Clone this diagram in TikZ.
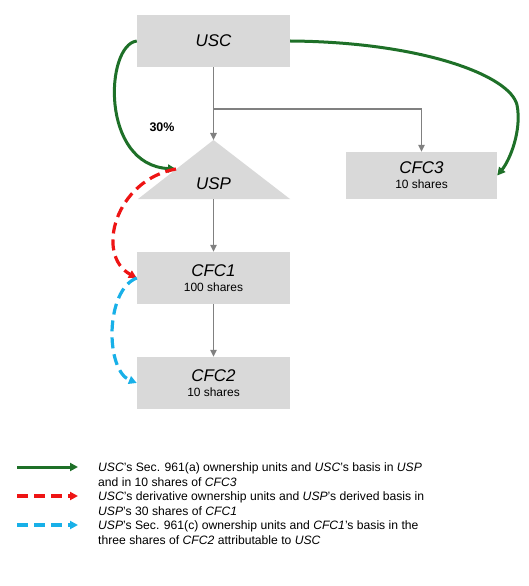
\documentclass[tikz,border=0pt]{standalone}
\usepackage{fontspec}
\setmainfont{Liberation Sans}
\usetikzlibrary{arrows.meta}

\definecolor{boxgray}{RGB}{217,217,217}
\definecolor{linkgray}{RGB}{128,128,128}
\definecolor{ownergreen}{RGB}{30,112,40}
\definecolor{derivred}{RGB}{238,20,20}
\definecolor{sharesblue}{RGB}{24,176,232}

\newcommand\entname[1]{{\fontsize{17}{19}\selectfont\itshape #1}}

\tikzset{
  entity/.style={fill=boxgray, minimum width=153bp, minimum height=52bp,
    inner sep=0pt, align=center, font=\fontsize{12}{15}\selectfont},
  holds/.style={draw=linkgray, line width=1.3bp,
    -{Triangle[length=7bp,width=6.5bp]}},
  owns/.style={draw=ownergreen, line width=3bp,
    -{Triangle[length=8bp,width=8bp]}},
  derives/.style={draw=derivred, line width=3.2bp, dash pattern=on 11bp off 6bp,
    -{Triangle[length=8bp,width=8bp]}},
  attrib/.style={draw=sharesblue, line width=3.2bp, dash pattern=on 11bp off 6bp,
    -{Triangle[length=8bp,width=8bp]}},
  legendtext/.style={anchor=north west, inner sep=0pt, align=left,
    font=\fontsize{12.2}{14.6}\selectfont}
}

\begin{document}
\begin{tikzpicture}[x=1bp, y=-1bp]
  \useasboundingbox (0,0) rectangle (529,586);

  \node[name=usc, entity] at (213.5,41) {\entname{USC}};
  \node[name=cfc3, entity, minimum width=151bp, minimum height=47bp]
    at (421.5,175.5) {\entname{CFC3}\\10 shares};
  \node[name=cfc1, entity] at (213.5,278) {\entname{CFC1}\\100 shares};
  \node[name=cfc2, entity] at (213.5,383) {\entname{CFC2}\\10 shares};

  \fill[boxgray] (138,199) -- (213.5,140) -- (290,199) -- cycle;
  \coordinate (usp apex) at (213.5,140);
  \coordinate (usp base) at (213.5,199);
  \coordinate (usp side) at (176,169);
  \node[name=usp, font=\fontsize{17}{19}\selectfont\itshape] at (213.5,184) {USP};

  \coordinate (split) at (213.5,109);
  \draw[holds] (usc.south) -- (usp apex);
  \draw[holds] (split) -| (cfc3.north);
  \draw[holds] (usp base) -- (cfc1.north);
  \draw[holds] (cfc1.south) -- (cfc2.north);

  \node[name=pct, font=\bfseries\fontsize{12.5}{14}\selectfont] at (162,127) {30\%};

  \draw[owns] (usc.west) .. controls (105,45) and (100,165) .. (usp side);
  \draw[owns] (usc.east) .. controls (420,42) and (510,75) .. (517,105)
    .. controls (522,130) and (510,160) .. (cfc3.east);
  \draw[derives] (usp side) .. controls (115,180) and (95,255) .. (cfc1.west);
  \draw[attrib] (cfc1.west) .. controls (105,290) and (105,370) .. (cfc2.west);

  \foreach \y/\sty/\txt in
    {467/owns/{\textit{USC}’s Sec. 961(a) ownership units and \textit{USC}’s basis in \textit{USP}\\and in 10 shares of \textit{CFC3}},
     496/derives/{\textit{USC}’s derivative ownership units and \textit{USP}’s derived basis in\\\textit{USP}’s 30 shares of \textit{CFC1}},
     525/attrib/{\textit{USP}’s Sec. 961(c) ownership units and \textit{CFC1}’s basis in the\\three shares of \textit{CFC2} attributable to \textit{USC}}}
  {
    \coordinate (key\y a) at (17,\y);
    \coordinate (key\y b) at (78,\y);
    \draw[\sty] (key\y a) -- (key\y b);
    \node[name=note\y, legendtext] at (98,\y-4.5) {\txt};
  }
\end{tikzpicture}
\end{document}
